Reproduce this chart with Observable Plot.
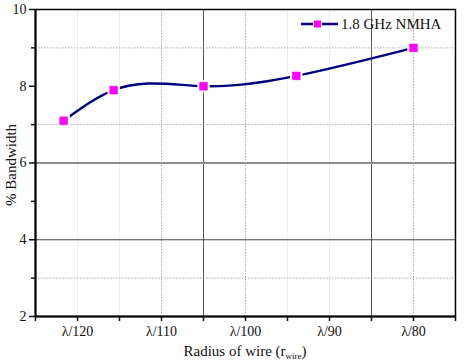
<!DOCTYPE html>
<html>
<head>
<meta charset="utf-8">
<script src="https://cdn.jsdelivr.net/npm/d3@7"></script>
<script src="https://cdn.jsdelivr.net/npm/@observablehq/plot@0.6"></script>
<style>
  html, body { margin: 0; padding: 0; background: #fff; }
  #chart svg, #chart svg text { font-family: "Liberation Serif", "Times New Roman", serif !important; }
</style>
</head>
<body>
<div id="chart"></div>
<script>
// Data
const xPos = [0.67, 1.86, 4, 6.21, 9];
const bandwidth = [7.1, 7.9, 8.0, 8.27, 9.0];
const seriesName = "1.8 GHz NMHA";
const xTickPos = [1, 3, 5, 7, 9];
const xTickLabels = ["λ/120", "λ/110", "λ/100", "λ/90", "λ/80"];
const xAllTicks = [0, 1, 2, 3, 4, 5, 6, 7, 8, 9, 10];
const yMajor = [2, 4, 6, 8, 10];
const yMinor = [3, 5, 7, 9];

const data = xPos.map((x, i) => ({x, y: bandwidth[i]}));
const labelOf = new Map(xTickPos.map((p, i) => [p, xTickLabels[i]]));

// Natural cubic spline as a function of x (like Origin's spline connection)
function curveSplineX(context) {
  let xs, ys;
  return {
    areaStart() {}, areaEnd() {},
    lineStart() { xs = []; ys = []; },
    point(x, y) { xs.push(+x); ys.push(+y); },
    lineEnd() {
      const n = xs.length;
      if (!n) return;
      context.moveTo(xs[0], ys[0]);
      if (n === 1) return;
      if (n === 2) { context.lineTo(xs[1], ys[1]); return; }
      const h = [], d = [];
      for (let i = 0; i < n - 1; i++) { h[i] = xs[i + 1] - xs[i]; d[i] = (ys[i + 1] - ys[i]) / h[i]; }
      const M = new Array(n).fill(0);
      const m = n - 2, a = [], b = [], c = [], r = [];
      for (let k = 0; k < m; k++) {
        const i = k + 1;
        a[k] = h[i - 1]; b[k] = 2 * (h[i - 1] + h[i]); c[k] = h[i]; r[k] = 6 * (d[i] - d[i - 1]);
      }
      for (let k = 1; k < m; k++) {
        const w = a[k] / b[k - 1];
        b[k] -= w * c[k - 1]; r[k] -= w * r[k - 1];
      }
      const sol = new Array(m);
      sol[m - 1] = r[m - 1] / b[m - 1];
      for (let k = m - 2; k >= 0; k--) sol[k] = (r[k] - c[k] * sol[k + 1]) / b[k];
      for (let k = 0; k < m; k++) M[k + 1] = sol[k];
      for (let i = 0; i < n - 1; i++) {
        const s0 = d[i] - h[i] * (2 * M[i] + M[i + 1]) / 6;
        const s1 = d[i] + h[i] * (M[i] + 2 * M[i + 1]) / 6;
        context.bezierCurveTo(xs[i] + h[i] / 3, ys[i] + s0 * h[i] / 3,
                              xs[i + 1] - h[i] / 3, ys[i + 1] - s1 * h[i] / 3,
                              xs[i + 1], ys[i + 1]);
      }
    }
  };
}

const chart = Plot.plot({
  width: 474,
  height: 364,
  marginLeft: 35,
  marginRight: 19,
  marginTop: 9,
  marginBottom: 48,
  style: {fontSize: "14px", color: "#111"},
  x: {domain: [0, 10], label: null},
  y: {domain: [2, 10], label: null},
  marks: [
    Plot.ruleX([1, 2, 6, 7], {stroke: "#eeeeee", strokeWidth: 1}),
    Plot.ruleX([3, 5, 9], {stroke: "#aaaaaa", strokeWidth: 1, strokeDasharray: "1.5,1.5"}),
    Plot.ruleY([3, 7, 9], {stroke: "#aaaaaa", strokeWidth: 1, strokeDasharray: "1.5,1.5"}),
    Plot.ruleX([4, 8], {stroke: "#555555", strokeWidth: 1}),
    Plot.ruleY([6], {stroke: "#8c8c8c", strokeWidth: 2}),
    Plot.ruleY([4], {stroke: "#444444", strokeWidth: 1}),
    Plot.frame({stroke: "#000", strokeWidth: 1.5}),
    Plot.ruleX([0], {stroke: "#000", strokeWidth: 2}),
    Plot.ruleY([2], {stroke: "#000", strokeWidth: 2}),
    Plot.axisY(yMajor, {tickSize: 6, tickPadding: 3, strokeWidth: 1.5, fontSize: 14}),
    Plot.axisY(yMinor, {tickSize: 4, tickFormat: () => "", strokeWidth: 1.5}),
    Plot.axisX(xAllTicks, {tickSize: 5, tickPadding: 5, strokeWidth: 1.5, fontSize: 14,
      tickFormat: d => labelOf.get(d) ?? ""}),
    Plot.line(data, {x: "x", y: "y", curve: curveSplineX, stroke: "#00007f", strokeWidth: 2.5}),
    Plot.dot(data, {x: "x", y: "y", symbol: "square", r: 7, fill: "#fff", stroke: "none"}),
    Plot.dot(data, {x: "x", y: "y", symbol: "square", r: 4.4, fill: "#ff00ff", stroke: "#e000e0", strokeWidth: 0.5})
  ]
});

const svg = d3.select(chart);
svg.append("text")
  .attr("transform", "translate(13,165) rotate(-90)")
  .attr("text-anchor", "middle")
  .attr("dominant-baseline", "middle")
  .attr("font-size", 15)
  .attr("fill", "#111")
  .text("% Bandwidth");
const xt = svg.append("text")
  .attr("x", 245).attr("y", 356)
  .attr("text-anchor", "middle")
  .attr("font-size", 15)
  .attr("fill", "#111");
xt.append("tspan").text("Radius of wire (r");
xt.append("tspan").attr("font-size", 9).attr("dy", 3).text("wire");
xt.append("tspan").attr("dy", -3).text(")");
const lg = svg.append("g");
lg.append("line").attr("x1", 301).attr("x2", 338).attr("y1", 24).attr("y2", 24)
  .attr("stroke", "#00007f").attr("stroke-width", 2.5);
lg.append("rect").attr("x", 313).attr("y", 19.5).attr("width", 9).attr("height", 9).attr("fill", "#fff");
lg.append("rect").attr("x", 314).attr("y", 20.5).attr("width", 7).attr("height", 7).attr("fill", "#ff00ff");
lg.append("text").attr("x", 341).attr("y", 29).attr("text-anchor", "start")
  .attr("font-size", 15).attr("fill", "#111").text(seriesName);

document.getElementById("chart").appendChild(chart);
</script>
</body>
</html>
